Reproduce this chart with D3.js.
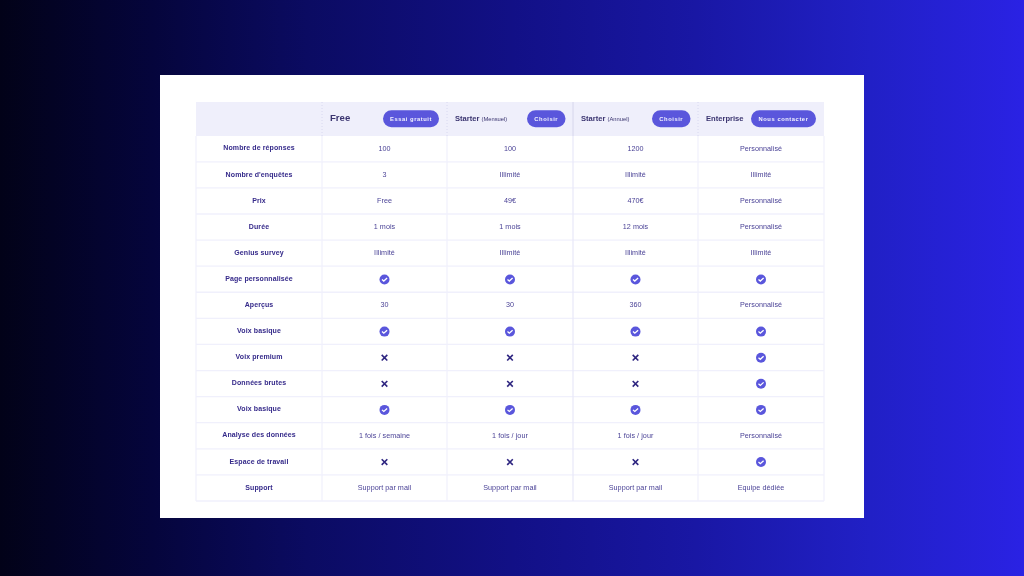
<!DOCTYPE html>
<html><head><meta charset="utf-8">
<script src="https://cdn.jsdelivr.net/npm/d3@7"></script>
<style>html,body{margin:0;padding:0;background:#000}svg{display:block}text{font-family:"Liberation Sans",Arial,sans-serif}</style>
</head><body><svg id="c" width="1024" height="576"></svg>
<script>
const rowLabels=["Nombre de réponses","Nombre d'enquêtes","Prix","Durée","Genius survey","Page personnalisée","Aperçus","Voix basique","Voix premium","Données brutes","Voix basique","Analyse des données","Espace de travail","Support"];
const plans=["Free","Starter","Starter","Enterprise"];
const planNotes=["","(Mensuel)","(Annuel)",""];
const buttons=["Essai gratuit","Choisir","Choisir","Nous contacter"];
const Y="yes",N="no";
const freeValues=["100","3","Free","1 mois","Illimité",Y,"30",Y,N,N,Y,"1 fois / semaine",N,"Support par mail"];
const monthlyValues=["100","Illimité","49€","1 mois","Illimité",Y,"30",Y,N,N,Y,"1 fois / jour",N,"Support par mail"];
const annualValues=["1200","Illimité","470€","12 mois","Illimité",Y,"360",Y,N,N,Y,"1 fois / jour",N,"Support par mail"];
const enterpriseValues=["Personnalisé","Illimité","Personnalisé","Personnalisé","Illimité",Y,"Personnalisé",Y,Y,Y,Y,"Personnalisé",Y,"Equipe dédiée"];
const columns=[freeValues,monthlyValues,annualValues,enterpriseValues];

const svg=d3.select("#c");
const defs=svg.append("defs");
const g=defs.append("linearGradient").attr("id","bg").attr("x1","0").attr("x2","1").attr("y1","0").attr("y2","0");
[[0,"#020218"],[0.15,"#05053c"],[0.3,"#0b0b62"],[0.5,"#121086"],[0.68,"#1917a4"],[0.85,"#2120c6"],[1,"#2a22e4"]].forEach(s=>g.append("stop").attr("offset",s[0]).attr("stop-color",s[1]));
const f=defs.append("filter").attr("id","soft").attr("x","-5%").attr("y","-5%").attr("width","110%").attr("height","110%");
f.append("feGaussianBlur").attr("stdDeviation",0.42);

svg.append("rect").attr("width",1024).attr("height",576).attr("fill","url(#bg)");
svg.append("rect").attr("x",160).attr("y",75).attr("width",704).attr("height",443).attr("fill","#fff");

const root=svg.append("g").attr("filter","url(#soft)");
const colEdges=[196,322,447,573,698,824];
const y=d3.scaleBand().domain(d3.range(rowLabels.length)).range([135.7,501]);
const labelInk="#352a8a", accent="#5a57dc", line="#f0f0fc";
const x=i=>colEdges[i];
const rowEdge=i=>i===rowLabels.length?501:y(i);

root.append("rect").attr("x",196).attr("y",102).attr("width",628).attr("height",34).attr("fill","#efeffb");

root.selectAll("line.r").data(d3.range(1,rowLabels.length+1)).join("line")
 .attr("x1",196).attr("x2",824).attr("y1",rowEdge).attr("y2",rowEdge)
 .attr("stroke",line).attr("stroke-width",1.3);
root.selectAll("line.c").data(colEdges).join("line")
 .attr("x1",d=>d).attr("x2",d=>d).attr("y1",136).attr("y2",501)
 .attr("stroke",d=>d===573?"#e8e8f8":line).attr("stroke-width",1.2);
root.selectAll("line.h").data(colEdges.slice(1,5)).join("line")
 .attr("x1",d=>d).attr("x2",d=>d).attr("y1",102).attr("y2",136)
 .attr("stroke",d=>d===573?"#d6d6ec":"#d8d8f0").attr("stroke-width",1).attr("stroke-dasharray",d=>d===573?null:"1 2");

const mid=i=>y(i)+y.bandwidth()/2;
root.selectAll("text.lab").data(rowLabels).join("text")
 .attr("x",259).attr("y",(d,i)=>mid(i)+1.7)
 .attr("text-anchor","middle").attr("font-size",7).attr("font-weight",700).attr("fill",labelInk).attr("letter-spacing",0.1)
 .text(d=>d);

const nameX=[330,455,581,706], nameSize=[9.6,7.6,7.6,7.6];
const btnW=[56,38.5,38.5,65], btnX=[383,527,652,751];
plans.forEach((p,c)=>{
  const t=root.append("text").attr("x",nameX[c]).attr("y",c===0?120.6:120.8).attr("fill","#3a3470");
  t.append("tspan").attr("font-size",nameSize[c]).attr("font-weight",700).text(p);
  if(planNotes[c]) t.append("tspan").attr("dx",2).attr("font-size",5.8).text(planNotes[c]);
  root.append("rect").attr("x",btnX[c]).attr("y",110.3).attr("width",btnW[c]).attr("height",17).attr("rx",8.5).attr("fill",accent);
  root.append("text").attr("x",btnX[c]+btnW[c]/2).attr("y",120.6).attr("text-anchor","middle")
   .attr("font-size",5.8).attr("font-weight",700).attr("letter-spacing",0.55).attr("fill","#f2f2ff").text(buttons[c]);
  const cx=(x(c+1)+x(c+2))/2;
  columns[c].forEach((v,r)=>{
    const cy=mid(r);
    if(v===Y){
      const k=root.append("g").attr("transform",`translate(${cx},${cy+0.2})`);
      k.append("circle").attr("r",5).attr("fill",accent);
      k.append("path").attr("d","M-2.5,0 L-0.7,1.6 L2.6,-1.4").attr("fill","none").attr("stroke","#fff").attr("stroke-width",1.3);
    } else if(v===N){
      root.append("path").attr("transform",`translate(${cx},${cy+0.2})`).attr("d","M-2.8,-2.8 L2.8,2.8 M-2.8,2.8 L2.8,-2.8")
       .attr("fill","none").attr("stroke","#2e2580").attr("stroke-width",1.6);
    } else {
      root.append("text").attr("x",cx).attr("y",cy+1.9).attr("text-anchor","middle")
       .attr("font-size",7.2).attr("fill","#4a4296").attr("letter-spacing",0.05).text(v);
    }
  });
});
</script></body></html>
